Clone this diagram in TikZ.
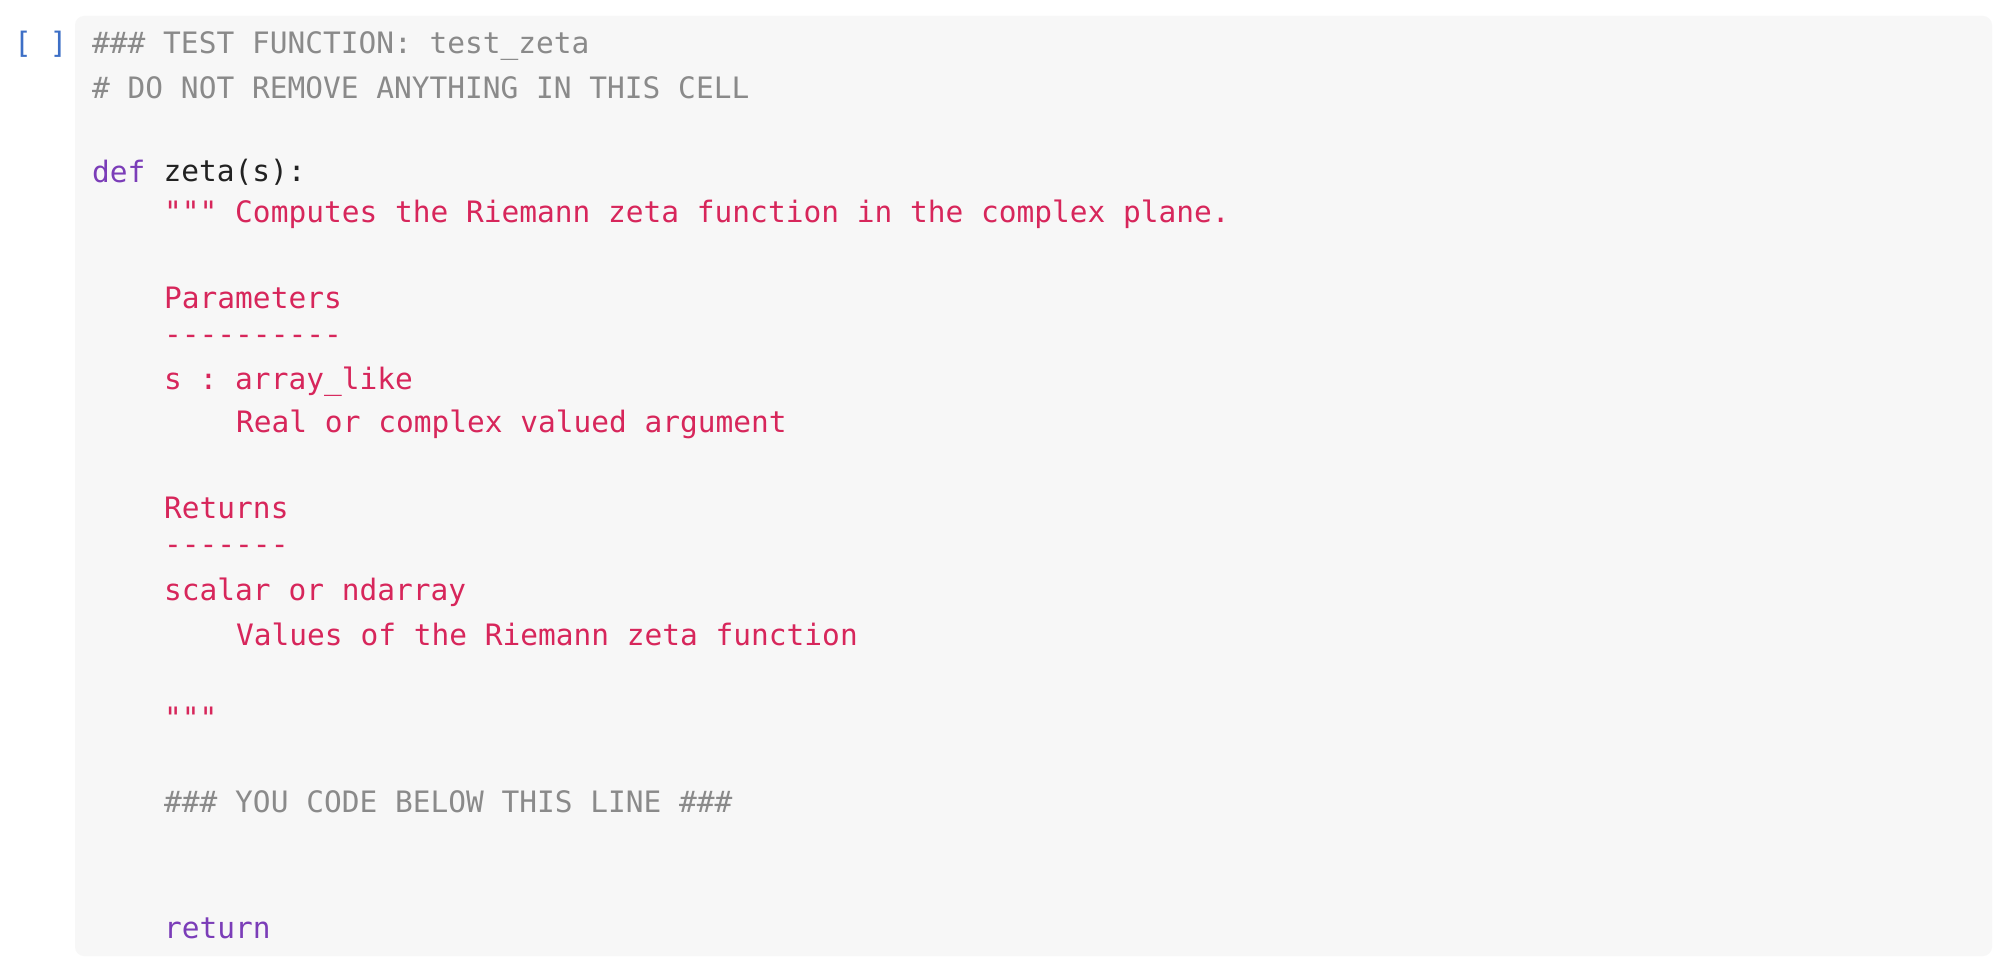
\documentclass[tikz,border=0pt]{standalone}
\usepackage{fontspec}
\setmonofont{DejaVu Sans Mono}
\definecolor{bgc}{HTML}{F7F7F7}
\definecolor{cmt}{HTML}{8A8A8A}
\definecolor{kw}{HTML}{7B3DB8}
\definecolor{str}{HTML}{D7265B}
\definecolor{txt}{HTML}{222222}
\definecolor{prm}{HTML}{3D6FC6}
\tikzset{code/.style={anchor=west,inner sep=0pt,font=\ttfamily\fontsize{29.5}{30}\selectfont}}
\begin{document}
\begin{tikzpicture}[x=1pt,y=-1pt]
\useasboundingbox (0,0) rectangle (2014,976);
\fill[white] (0,0) rectangle (2014,976);
\fill[bgc,rounded corners=9pt] (75,16) rectangle (1992,956);
\node[code,text=prm] (p) at (14,44) {[ ]};
\def\lx{92}\def\ix{164}\def\iix{236}
\node[code,text=cmt] (l0) at (\lx,46) {\#\#\# TEST FUNCTION: test\_zeta};
\node[code,text=cmt] (l1) at (\lx,88) {\# DO NOT REMOVE ANYTHING IN THIS CELL};
\node[code,text=kw] (l3) at (\lx,172) {def};
\node[code,text=txt] (l3b) at (l3.east) {\ zeta(s):};
\node[code,text=str] (l4) at (\ix,214) {"{}"{}" Computes the Riemann zeta function in the complex plane.};
\node[code,text=str] (l6) at (\ix,298) {Parameters};
\node[code,text=str] (l7) at (\ix,340) {----------};
\node[code,text=str] (l8) at (\ix,382) {s : array\_like};
\node[code,text=str] (l9) at (\iix,424) {Real or complex valued argument};
\node[code,text=str] (l11) at (\ix,508) {Returns};
\node[code,text=str] (l12) at (\ix,550) {-------};
\node[code,text=str] (l13) at (\ix,592) {scalar or ndarray};
\node[code,text=str] (l14) at (\iix,634) {Values of the Riemann zeta function};
\node[code,text=str] (l16) at (\ix,718) {"{}"{}"};
\node[code,text=cmt] (l18) at (\ix,802) {\#\#\# YOU CODE BELOW THIS LINE \#\#\#};
\node[code,text=kw] (l21) at (\ix,928) {return};
\end{tikzpicture}
\end{document}
